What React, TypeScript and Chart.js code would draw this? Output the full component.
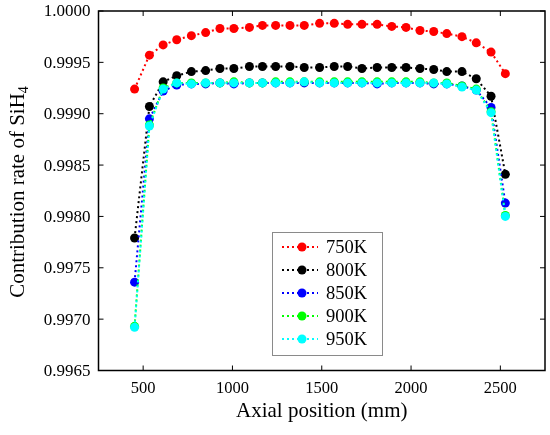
import { useEffect, useRef } from "react";
import { Chart, registerables } from "chart.js";

Chart.register(...registerables);

// axial positions (mm), shared by every temperature
const POSITIONS = [
  452, 535, 612, 688, 770, 850, 930, 1008, 1095, 1168, 1242, 1322, 1402, 1488,
  1570, 1645, 1725, 1810, 1892, 1972, 2050, 2127, 2200, 2285, 2365, 2448, 2528,
];

const RATE_750K = [
  0.99924, 0.99957, 0.99967, 0.99972, 0.99976, 0.99979, 0.99983, 0.99983,
  0.99984, 0.99986, 0.99986, 0.99986, 0.99986, 0.99988, 0.99988, 0.99987,
  0.99987, 0.99987, 0.99985, 0.99984, 0.99981, 0.9998, 0.99978, 0.99975,
  0.99969, 0.9996, 0.99939,
];
const RATE_800K = [
  0.99779, 0.99907, 0.99931, 0.99937, 0.99941, 0.99942, 0.99944, 0.99944,
  0.99946, 0.99946, 0.99946, 0.99946, 0.99945, 0.99945, 0.99946, 0.99946,
  0.99944, 0.99945, 0.99945, 0.99945, 0.99944, 0.99943, 0.99941, 0.99941,
  0.99934, 0.99917, 0.99841,
];
const RATE_850K = [
  0.99736, 0.99895, 0.99922, 0.99928, 0.99929, 0.99929, 0.9993, 0.99929,
  0.9993, 0.9993, 0.9993, 0.9993, 0.9993, 0.9993, 0.9993, 0.9993, 0.9993,
  0.99929, 0.9993, 0.9993, 0.9993, 0.99929, 0.99929, 0.99927, 0.99923,
  0.99906, 0.99813,
];
const RATE_900K = [
  0.99693, 0.99889, 0.99925, 0.9993, 0.9993, 0.9993, 0.9993, 0.99931, 0.9993,
  0.9993, 0.99931, 0.99931, 0.99931, 0.99931, 0.99931, 0.99931, 0.99931,
  0.99931, 0.99931, 0.99931, 0.99931, 0.9993, 0.9993, 0.99927, 0.99924,
  0.99902, 0.99801,
];
const RATE_950K = [
  0.99692, 0.99888, 0.99924, 0.9993, 0.99929, 0.9993, 0.9993, 0.9993, 0.9993,
  0.9993, 0.9993, 0.9993, 0.99931, 0.9993, 0.9993, 0.9993, 0.9993, 0.9993,
  0.9993, 0.9993, 0.9993, 0.9993, 0.99929, 0.99926, 0.99923, 0.99901, 0.998,
];

const SERIES_NAMES = ["750K", "800K", "850K", "900K", "950K"];
const SERIES_COLORS = ["#ff0000", "#000000", "#0000ff", "#00ff00", "#00ffff"];
const SERIES_VALUES = [RATE_750K, RATE_800K, RATE_850K, RATE_900K, RATE_950K];

const X_TICKS = [500, 1000, 1500, 2000, 2500];
const Y_TICKS = [0.9965, 0.997, 0.9975, 0.998, 0.9985, 0.999, 0.9995, 1.0];

const SERIF = '"Liberation Serif", "Times New Roman", serif';
const DASH = [2, 3];

// Chart.js kept falling back to a sans face for tick labels, so the labels,
// inward ticks, frame, titles and legend are all painted here instead.
const framePlugin = {
  id: "frame",
  afterDatasetsDraw(chart: any) {
    const { ctx, chartArea: a, scales } = chart;
    ctx.save();
    ctx.strokeStyle = "#000";
    ctx.fillStyle = "#000";
    ctx.lineWidth = 1;
    const seg = (x1: number, y1: number, x2: number, y2: number) => {
      ctx.beginPath();
      ctx.moveTo(x1, y1);
      ctx.lineTo(x2, y2);
      ctx.stroke();
    };

    ctx.font = `16.5px ${SERIF}`;
    ctx.textAlign = "center";
    ctx.textBaseline = "alphabetic";
    X_TICKS.forEach((v) => {
      const x = scales.x.getPixelForValue(v);
      seg(x, a.bottom, x, a.bottom - 5);
      seg(x, a.top, x, a.top + 5);
      ctx.fillText(String(v), x, 393);
    });

    ctx.font = `17px ${SERIF}`;
    ctx.textAlign = "right";
    ctx.textBaseline = "middle";
    Y_TICKS.forEach((v) => {
      const y = scales.y.getPixelForValue(v);
      seg(a.left, y, a.left + 5, y);
      seg(a.right, y, a.right - 5, y);
      ctx.fillText(v.toFixed(4), 90.5, y + 1);
    });

    ctx.lineWidth = 1.5;
    ctx.strokeRect(a.left, a.top, a.right - a.left, a.bottom - a.top);

    // y title with subscript
    ctx.save();
    ctx.translate(24, 192);
    ctx.rotate(-Math.PI / 2);
    ctx.textBaseline = "alphabetic";
    ctx.textAlign = "left";
    const main = "Contribution rate of SiH";
    ctx.font = `21px ${SERIF}`;
    const w1 = ctx.measureText(main).width;
    ctx.font = `14px ${SERIF}`;
    const w2 = ctx.measureText("4").width;
    const start = -(w1 + w2) / 2;
    ctx.font = `21px ${SERIF}`;
    ctx.fillText(main, start, 0);
    ctx.font = `14px ${SERIF}`;
    ctx.fillText("4", start + w1, 4);
    ctx.restore();

    // x title
    ctx.font = `21px ${SERIF}`;
    ctx.textAlign = "center";
    ctx.textBaseline = "alphabetic";
    ctx.fillText("Axial position (mm)", (a.left + a.right) / 2, 416.5);

    // legend
    ctx.fillStyle = "#fff";
    ctx.fillRect(272.5, 232.5, 110, 123);
    ctx.strokeStyle = "#8a8a8a";
    ctx.lineWidth = 1;
    ctx.strokeRect(272.5, 232.5, 110, 123);
    SERIES_NAMES.forEach((name, i) => {
      const y = 247 + i * 23;
      ctx.strokeStyle = SERIES_COLORS[i];
      ctx.lineWidth = 2;
      ctx.setLineDash(DASH);
      seg(282, y, 318, y);
      ctx.setLineDash([]);
      ctx.fillStyle = SERIES_COLORS[i];
      ctx.beginPath();
      ctx.arc(302, y, 4.5, 0, Math.PI * 2);
      ctx.fill();
      ctx.fillStyle = "#000";
      ctx.font = `18.5px ${SERIF}`;
      ctx.textAlign = "left";
      ctx.textBaseline = "middle";
      ctx.fillText(name, 326, y + 1);
    });
    ctx.restore();
  },
};

export default function App() {
  const canvasRef = useRef<HTMLCanvasElement>(null);

  useEffect(() => {
    if (!canvasRef.current) return;
    const chart = new Chart(canvasRef.current, {
      type: "line",
      data: {
        datasets: SERIES_NAMES.map((name, i) => ({
          label: name,
          data: POSITIONS.map((x, j) => ({ x, y: SERIES_VALUES[i][j] })),
          borderColor: SERIES_COLORS[i],
          backgroundColor: SERIES_COLORS[i],
          borderWidth: 2,
          borderDash: DASH,
          pointRadius: 4.5,
          pointBorderWidth: 0,
          pointBackgroundColor: SERIES_COLORS[i],
          tension: 0,
          fill: false,
          order: SERIES_NAMES.length - i,
        })),
      },
      options: {
        animation: false,
        responsive: false,
        layout: { padding: { left: 0, top: 11, right: 5, bottom: 0 } },
        plugins: {
          legend: { display: false },
          tooltip: { enabled: false },
          title: { display: false },
        },
        scales: {
          x: {
            type: "linear",
            min: 250,
            max: 2750,
            grid: { display: false, drawTicks: false },
            border: { display: false },
            ticks: { display: false },
            afterFit: (s: any) => {
              s.height = 64.5;
            },
          },
          y: {
            type: "linear",
            min: 0.9965,
            max: 1.0,
            grid: { display: false, drawTicks: false },
            border: { display: false },
            ticks: { display: false },
            afterFit: (s: any) => {
              s.width = 98.5;
            },
          },
        },
      },
      plugins: [framePlugin],
    });
    return () => chart.destroy();
  }, []);

  return (
    <div style={{ position: "absolute", left: 0, top: 0, width: 550, height: 435, background: "#fff" }}>
      <canvas ref={canvasRef} width={550} height={435} />
    </div>
  );
}
